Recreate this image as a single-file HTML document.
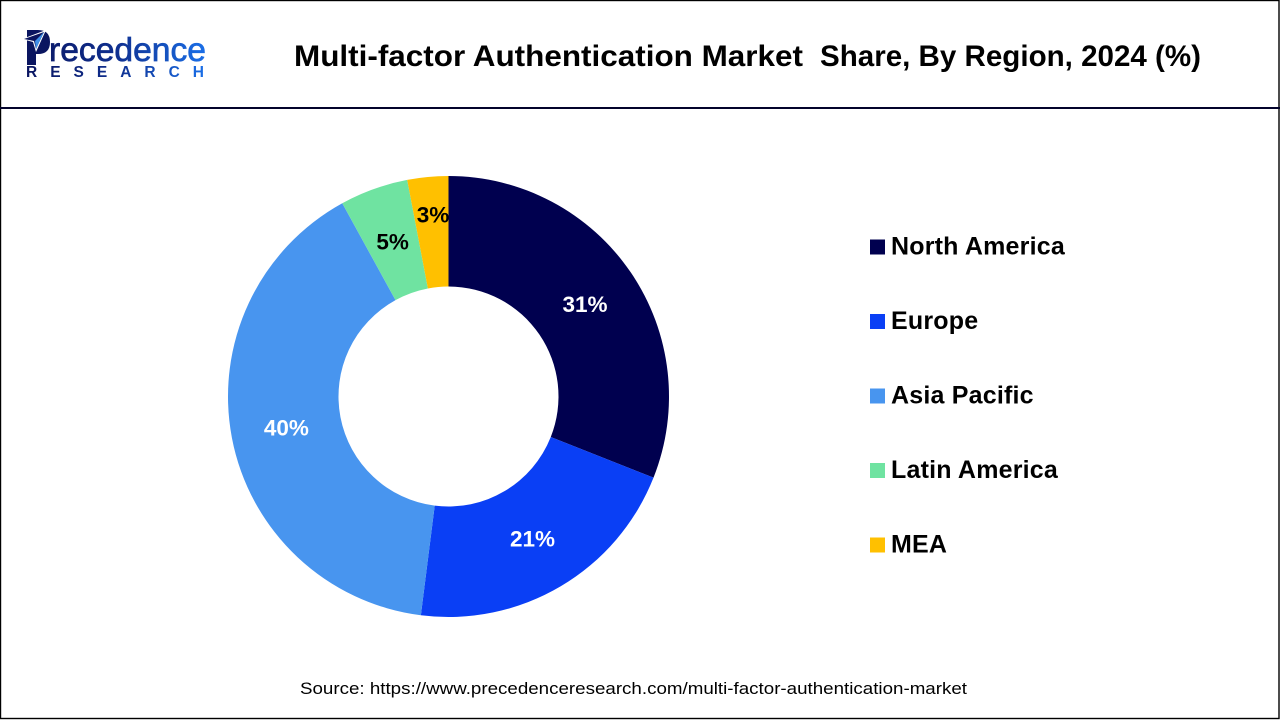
<!DOCTYPE html>
<html lang="en">
<head>
<meta charset="utf-8">
<title>Multi-factor Authentication Market Share, By Region, 2024 (%)</title>
<style>
html,body{margin:0;padding:0;background:#fff;width:1280px;height:720px;overflow:hidden}
svg{display:block}
text{font-family:"Liberation Sans",sans-serif}
</style>
</head>
<body>
<svg id="chart" xmlns="http://www.w3.org/2000/svg" width="1280" height="720" viewBox="0 0 1280 720">
  <defs>
    <linearGradient id="logoGrad" gradientUnits="userSpaceOnUse" x1="25" y1="0" x2="206" y2="0">
      <stop offset="0" stop-color="#0a1560"/>
      <stop offset="0.5" stop-color="#0f2f8f"/>
      <stop offset="1" stop-color="#1a6fe8"/>
    </linearGradient>
  </defs>
  <rect x="0" y="0" width="1280" height="720" fill="#fff"/>
  <rect x="0.5" y="0.5" width="1278.5" height="718" fill="none" stroke="#000" stroke-width="1.4"/>
  <rect x="0" y="107" width="1280" height="2" fill="#03032b"/>

  <g>
    <path d="M27 30 H38 Q50 30 50 42 Q50 54 38 54 H36 V65 H27 Z" fill="#0a1560"/>
    <path d="M22 39 L46 30 L36 52 L33 42 Z" fill="#fff"/>
    <path d="M24 39 L44 32 L36 49 L34 41 Z" fill="#0a1560"/>
    <path d="M44 32 L36 49 L35 41 Z" fill="#3f8fe8"/>
    <text x="49" y="61" font-size="33" textLength="157" lengthAdjust="spacingAndGlyphs" fill="url(#logoGrad)" stroke="url(#logoGrad)" stroke-width="0.7">recedence</text>
    <text x="26" y="77" font-size="15.5" font-weight="700" textLength="178" fill="url(#logoGrad)">RESEARCH</text>
  </g>

  <g>
    <text x="294" y="66" font-size="30" font-weight="700" fill="#000" textLength="509" lengthAdjust="spacingAndGlyphs">Multi-factor Authentication Market</text>
    <text x="820" y="66" font-size="30" font-weight="700" fill="#000" textLength="381" lengthAdjust="spacingAndGlyphs">Share, By Region, 2024 (%)</text>
  </g>

  <g id="slices"></g>
  <g id="labels"></g>
  <g id="legend"></g>

  <text x="300" y="694" font-size="16.5" fill="#000" textLength="667" lengthAdjust="spacingAndGlyphs">Source: https://www.precedenceresearch.com/multi-factor-authentication-market</text>
</svg>
<script>
const categories = ['North America', 'Europe', 'Asia Pacific', 'Latin America', 'MEA'];
const shareValues = [31, 21, 40, 5, 3];
const shareLabels = ['31%', '21%', '40%', '5%', '3%'];

const sliceColors = ['#00004f', '#0a3ff5', '#4895ef', '#6fe3a1', '#ffc000'];
const labelColors = ['#fff', '#fff', '#fff', '#000', '#000'];
const NS = 'http://www.w3.org/2000/svg';
const cx = 448.5, cy = 396.5, outerR = 220.5, innerR = 110, labelR = 165;
const total = shareValues.reduce(function (a, b) { return a + b; }, 0);

function angleOf(v) { return v / total * Math.PI * 2; }
function px(r, a) { return cx + r * Math.sin(a); }
function py(r, a) { return cy - r * Math.cos(a); }
function slug(s) { return s.toLowerCase().replace(/\s+/g, '-'); }

const slicesG = document.getElementById('slices');
const labelsG = document.getElementById('labels');
const legendG = document.getElementById('legend');

let run = 0;
shareValues.forEach(function (v, i) {
  const a0 = angleOf(run), a1 = angleOf(run + v), mid = (a0 + a1) / 2;
  const large = (a1 - a0) > Math.PI ? 1 : 0;
  const d = 'M' + px(outerR, a0) + ' ' + py(outerR, a0) +
    'A' + outerR + ' ' + outerR + ' 0 ' + large + ' 1 ' + px(outerR, a1) + ' ' + py(outerR, a1) +
    'L' + px(innerR, a1) + ' ' + py(innerR, a1) +
    'A' + innerR + ' ' + innerR + ' 0 ' + large + ' 0 ' + px(innerR, a0) + ' ' + py(innerR, a0) + 'Z';
  const path = document.createElementNS(NS, 'path');
  path.setAttribute('d', d);
  path.setAttribute('fill', sliceColors[i]);
  
  
  slicesG.appendChild(path);

  const small = v / total < 0.04;
  const t = document.createElementNS(NS, 'text');
  t.setAttribute('x', px(labelR, mid));
  t.setAttribute('y', py(labelR + (small ? 18 : 0), mid) + 8);
  t.setAttribute('text-anchor', 'middle');
  t.setAttribute('font-size', '22.5');
  t.setAttribute('font-weight', '700');
  t.setAttribute('fill', labelColors[i]);
  t.textContent = shareLabels[i];
  
  
  labelsG.appendChild(t);

  const rowY = 247 + i * 74.5;
  const sw = document.createElementNS(NS, 'rect');
  sw.setAttribute('x', 870);
  sw.setAttribute('y', rowY - 7.5);
  sw.setAttribute('width', 15);
  sw.setAttribute('height', 15);
  sw.setAttribute('fill', sliceColors[i]);
  
  
  legendG.appendChild(sw);

  const lt = document.createElementNS(NS, 'text');
  lt.setAttribute('x', 891);
  lt.setAttribute('y', rowY + 7.6);
  lt.setAttribute('font-size', '25');
  lt.setAttribute('font-weight', '700');
  lt.setAttribute('letter-spacing', '0.2');
  lt.setAttribute('fill', '#000');
  lt.textContent = categories[i];
  
  
  legendG.appendChild(lt);

  run += v;
});
</script>
</body>
</html>
